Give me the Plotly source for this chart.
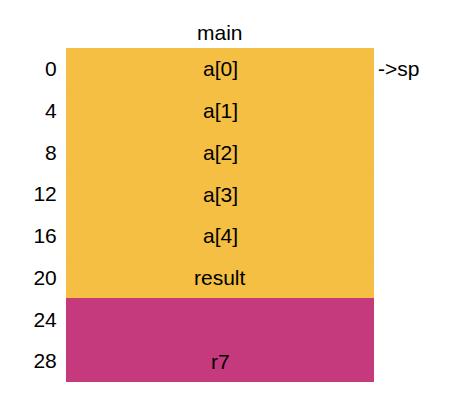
import plotly.graph_objects as go

offsets = [0, 4, 8, 12, 16, 20, 24, 28]
labels = ["a[0]", "a[1]", "a[2]", "a[3]", "a[4]", "result", "", "r7"]
colors = ["#F4BF42"] * 6 + ["#C43A7C"] * 2
title = "main"
pointer_row = 0
pointer_text = "->sp"

fig = go.Figure()
fig.add_trace(go.Bar(
    x=[0] * len(offsets), y=[4] * len(offsets), base=[o - 2 for o in offsets],
    width=1, marker=dict(color=colors, line=dict(width=1, color=colors)), hoverinfo="skip",
))
for o, t in zip(offsets, labels):
    fig.add_annotation(x=0, y=o, text=t, showarrow=False,
                       font=dict(size=21, color="black"))
fig.add_annotation(x=0, y=-2, text=title, showarrow=False, yanchor="bottom",
                   yshift=2, font=dict(size=21, color="black"))
fig.add_annotation(x=0.5, y=pointer_row, text=pointer_text, showarrow=False,
                   xanchor="left", xshift=2, font=dict(size=21, color="black"))
fig.update_layout(
    width=470, height=408, margin=dict(l=58, r=104, t=40, b=34),
    plot_bgcolor="white", paper_bgcolor="white", showlegend=False,
    font=dict(family="Liberation Sans, Arial, sans-serif", size=21, color="black"),
    barmode="overlay",
    xaxis=dict(range=[-0.5, 0.5], visible=False),
    yaxis=dict(range=[30, -2], tickvals=offsets, ticktext=[str(o) for o in offsets],
               showgrid=False, zeroline=False, showline=False, ticks="outside",
               ticklen=4, tickcolor="white", tickfont=dict(size=21)),
)
fig.write_html("out.html")
